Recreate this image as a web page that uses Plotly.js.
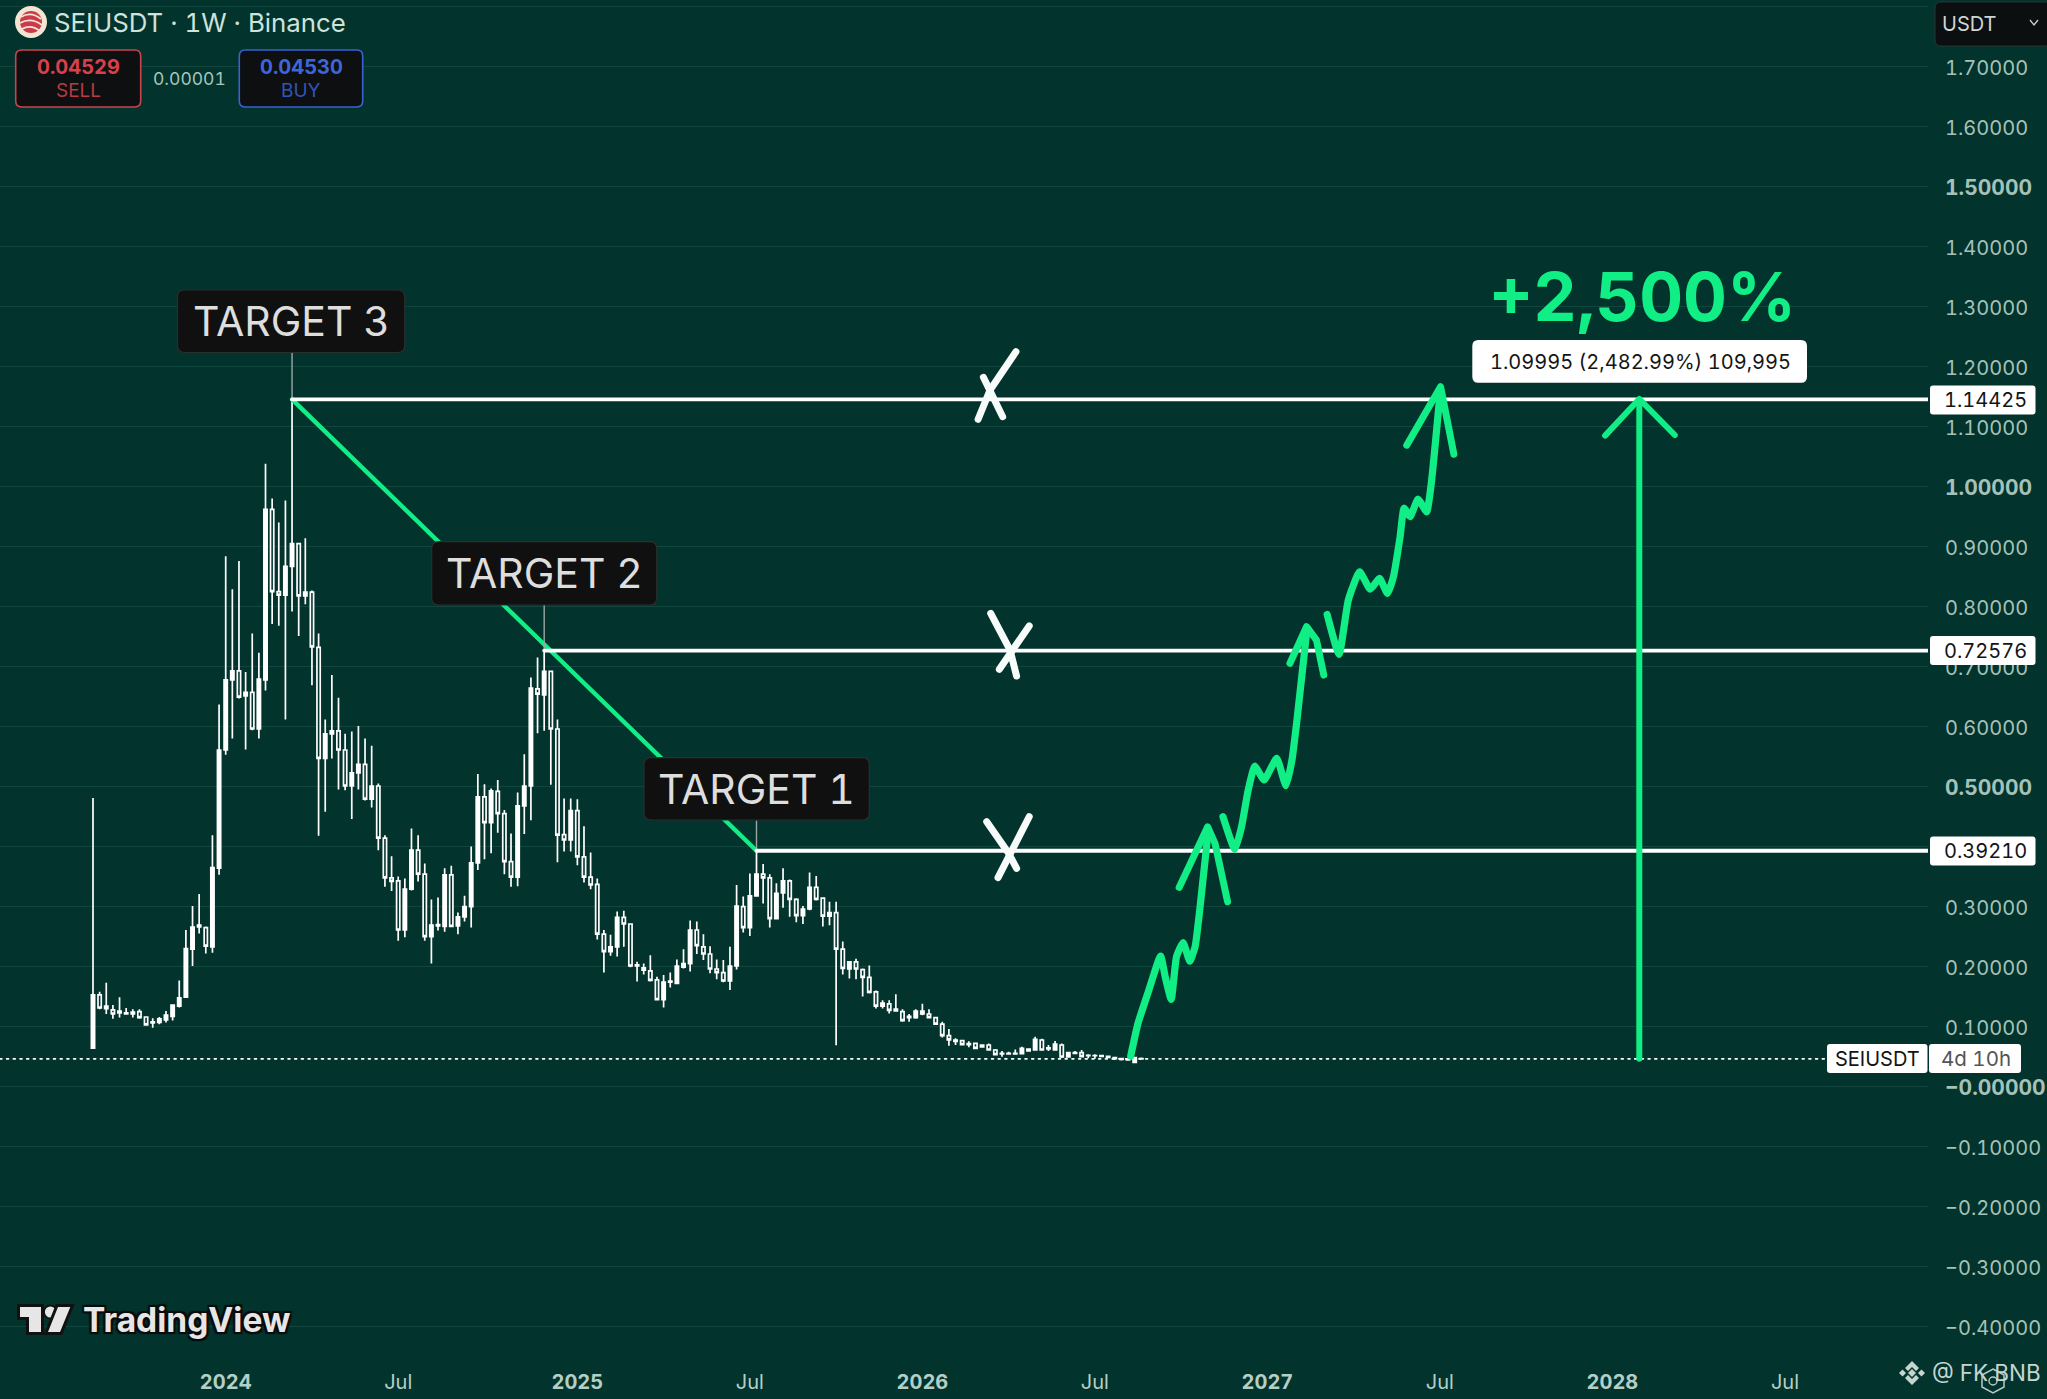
<!DOCTYPE html>
<html>
<head>
<meta charset="utf-8">
<script src="https://cdn.plot.ly/plotly-3.0.1.min.js"></script>
<style>
html,body{margin:0;padding:0;background:#02332c;overflow:hidden}
#chart{width:2047px;height:1399px}
.js-line{stroke-linecap:round;stroke-linejoin:round}
svg text{font-variant-numeric:tabular-nums;font-feature-settings:"tnum" 1}
</style>
</head>
<body>
<div id="chart"></div>
<script>
const firstWeek = '2023-08-14';
const opens = [.063,.152,.129,.127,.122,.12,.12,.124,.115,.105,.106,.11,.116,.133,.148,.228,.265,.264,.232,.363,.56,.677,.692,.65,.656,.595,.677,.961,.824,.818,.866,.904,.817,.823,.731,.546,.587,.592,.56,.5,.522,.536,.478,.5,.413,.347,.342,.26,.328,.393,.353,.249,.267,.266,.352,.267,.282,.299,.372,.482,.439,.491,.454,.374,.348,.467,.5,.662,.652,.691,.595,.419,.41,.459,.382,.348,.336,.253,.224,.232,.281,.27,.2,.193,.192,.177,.144,.173,.171,.198,.204,.26,.232,.22,.195,.189,.175,.2,.299,.264,.317,.353,.347,.279,.322,.342,.311,.284,.295,.331,.313,.283,.289,.228,.195,.207,.194,.181,.157,.133,.137,.125,.124,.114,.114,.12,.12,.114,.103,.084,.0767,.0756,.0689,.0711,.065,.0683,.06,.0533,.0533,.0535,.054,.0585,.06,.0767,.0635,.06,.0683,.0483,.0556,.0556,.0511,.0505,.0505,.0495,.0475,.0455,.0445,.0395,.0455];
const highs = [.48,.157,.172,.135,.148,.13,.128,.128,.116,.113,.115,.125,.136,.176,.26,.3,.32,.266,.418,.636,.883,.828,.875,.69,.754,.722,1.037,.979,.939,.976,1.14425,.905,.913,.826,.754,.611,.685,.647,.587,.591,.6,.579,.567,.504,.418,.383,.349,.346,.429,.418,.371,.311,.314,.363,.367,.289,.317,.399,.52,.503,.496,.51,.46,.421,.489,.553,.681,.714,.72576,.692,.611,.479,.479,.478,.433,.389,.346,.26,.252,.291,.292,.271,.207,.204,.218,.182,.185,.189,.211,.228,.276,.274,.253,.233,.211,.21,.232,.335,.316,.354,.3921,.37,.353,.338,.363,.344,.313,.3,.356,.35,.314,.307,.307,.241,.208,.212,.196,.201,.159,.143,.143,.153,.128,.12,.128,.137,.128,.115,.107,.095,.0794,.077,.0744,.0725,.069,.071,.0615,.0583,.0572,.061,.0656,.0625,.0822,.0789,.0683,.075,.071,.0565,.0583,.06,.0528,.0528,.0515,.05,.0478,.046,.045,.0475,.0475];
const lows = [.063,.128,.12,.112,.114,.119,.114,.112,.101,.097,.103,.106,.109,.131,.147,.2,.254,.221,.222,.352,.552,.579,.646,.561,.593,.579,.659,.77,.767,.611,.791,.75,.803,.668,.417,.457,.546,.494,.493,.445,.494,.476,.464,.393,.332,.325,.242,.248,.326,.341,.242,.204,.259,.257,.265,.253,.274,.264,.36,.378,.388,.422,.353,.332,.333,.42,.443,.588,.592,.502,.373,.391,.391,.368,.339,.328,.244,.189,.217,.216,.232,.198,.174,.186,.174,.143,.131,.164,.17,.196,.191,.22,.21,.188,.178,.173,.16,.194,.256,.25,.316,.304,.264,.278,.297,.282,.273,.27,.293,.309,.266,.268,.068,.186,.179,.178,.149,.154,.129,.129,.121,.124,.107,.107,.112,.118,.113,.102,.081,.067,.0683,.0685,.0644,.0625,.0645,.0595,.0515,.0489,.0528,.0528,.0535,.058,.06,.0595,.0583,.06,.0467,.0475,.0545,.0485,.0461,.0456,.0478,.047,.0435,.0425,.043,.0392,.045];
const closes = [.152,.13,.133,.12,.125,.122,.123,.114,.102,.107,.112,.118,.135,.147,.229,.265,.268,.233,.364,.56,.677,.692,.648,.656,.595,.678,.961,.824,.818,.866,.904,.817,.823,.732,.546,.587,.592,.56,.5,.522,.536,.478,.5,.413,.347,.341,.26,.328,.393,.353,.249,.268,.269,.352,.266,.282,.299,.372,.482,.439,.492,.454,.374,.348,.467,.5,.663,.653,.691,.595,.418,.41,.459,.382,.348,.335,.253,.224,.232,.281,.27,.2,.202,.197,.176,.144,.173,.175,.2,.204,.26,.234,.22,.195,.189,.175,.2,.3,.264,.317,.353,.347,.279,.321,.342,.311,.284,.295,.331,.311,.283,.289,.228,.196,.207,.195,.181,.156,.133,.138,.126,.128,.109,.116,.125,.125,.114,.103,.084,.077,.0744,.0689,.0705,.0628,.0683,.06,.0522,.0545,.0545,.0545,.0628,.0617,.0778,.06,.0617,.07,.0483,.0556,.0545,.0489,.0505,.0508,.0495,.0475,.0455,.0445,.0435,.0475,.0453];

const boldTick = s => `<span style="font-size:21px"><b>${s}</b></span>`;
const priceTicks = [1.8,1.7,1.6,1.5,1.4,1.3,1.2,1.1,1.0,.9,.8,.7,.6,.5,.4,.3,.2,.1,0,-.1,-.2,-.3,-.4];
const priceLabels = ['','1.70000','1.60000',boldTick('1.50000'),'1.40000','1.30000','1.20000','1.10000',boldTick('1.00000'),'0.90000','0.80000','0.70000','0.60000',boldTick('0.50000'),'0.40000','0.30000','0.20000','0.10000',boldTick('\u22120.00000'),'\u22120.10000','\u22120.20000','\u22120.30000','\u22120.40000'];
const timeTicks = ['2024-01-01','2024-07-01','2025-01-06','2025-07-07','2026-01-05','2026-07-06','2027-01-04','2027-07-05','2028-01-03','2028-07-03'];
const timeLabels = ['<b>2024</b>','Jul','<b>2025</b>','Jul','<b>2026</b>','Jul','<b>2027</b>','Jul','<b>2028</b>','Jul'];

const targetPrices = [1.14425,0.72576,0.39210];
const targetWeeks = [30,68,100];
const targetNames = ['TARGET 3','TARGET 2','TARGET 1'];
const stemTops = [1.2217,0.8017,0.4417];
const lastPrice = 0.0453;

const trendWeeks = [30,100];
const trendPrices = [1.14425,0.3921];
const strokeAWeeks = [156.4,157.5,159.05,160.9,161.6,162.5,163.3,164.3,165.3,166.1,166.8,168.1];
const strokeAPrices = [.05,.1045,.157,.2167,.182,.1445,.2155,.239,.208,.232,.293,.4267];
const headAWeeks = [163.7,167.1,168,169.1,171];
const headAPrices = [.331,.413,.432,.4045,.307];
const strokeBWeeks = [170.3,172.1,173.1,174.1,175.1,176.5,178.4,179.8,180.7,181.4,182.9];
const strokeBPrices = [.449,.3945,.432,.493,.533,.51,.546,.5005,.543,.6045,.7545];
const headBWeeks = [180.4,181.9,182.9,184.4,185.5];
const headBPrices = [.7045,.738,.7655,.743,.685];
const strokeCWeeks = [186,187.8,189.2,190.9,192.5,193.9,195.1,196,197,197.6,198.5,199.7,201,201.7,203];
const strokeCPrices = [.786,.7195,.81,.857,.828,.846,.821,.849,.9155,.963,.949,.978,.957,1.0045,1.152];
const headCWeeks = [198,200.5,203.1,204,205.1];
const headCPrices = [1.068,1.1155,1.1655,1.1155,1.053];
const bigArrowWeeks = [233.05,233.05,null,227.9,233.05,238.4];
const bigArrowPrices = [.0453,1.14,null,1.084,1.145,1.085];
const crossWeeks = [139.1,135.2,133.4,null,134.2,135.4,137.1,null,135.3,138.2,139.2,null,141.1,138.2,136.6,null,134.7,138,139.2,null,141.1,138.1,136.4];
const crossPrices = [1.2238,1.16,1.1112,null,1.1812,1.1517,1.1155,null,.7878,.7267,.6833,null,.7667,.7212,.6945,null,.4405,.3878,.3628,null,.4488,.3878,.3472];

const BG='#02332c', GREEN='#10ee85', WEEK=7*864e5, t0=Date.parse(firstWeek+'T00:00:00Z');
const wk = w => w===null ? null : new Date(t0+w*WEEK).toISOString();
const PW=1928, PH=1355, pxPerWeek=6.635, x0=93;
const X = x=>x/PW, Y = y=>1-y/PH;
const yTop=1086/600, yBot=(1086-PH)/600;
const rr=(a,b,c,d,r)=>`M ${X(a+r)} ${Y(b)} L ${X(c-r)} ${Y(b)} Q ${X(c)} ${Y(b)} ${X(c)} ${Y(b+r)} L ${X(c)} ${Y(d-r)} Q ${X(c)} ${Y(d)} ${X(c-r)} ${Y(d)} L ${X(a+r)} ${Y(d)} Q ${X(a)} ${Y(d)} ${X(a)} ${Y(d-r)} L ${X(a)} ${Y(b+r)} Q ${X(a)} ${Y(b)} ${X(a+r)} ${Y(b)} Z`;
const poly=(pts,close=true)=>pts.map((p,i)=>`${i?'L':'M'} ${X(p[0])} ${Y(p[1])}`).join(' ')+(close?' Z':'');
const box=(a,b,c,d,r,fill,line,w=1)=>({type:'path',xref:'paper',yref:'paper',layer:'above',path:rr(a,b,c,d,r),fillcolor:fill,line:{color:line,width:w}});
const shp=(pts,fill,line,w=0,close=true)=>({type:'path',xref:'paper',yref:'paper',layer:'above',path:poly(pts,close),fillcolor:fill,line:{color:line,width:w}});
const circ=(cx,cy,r,fill,line,w=0)=>({type:'circle',xref:'paper',yref:'paper',layer:'above',x0:X(cx-r),x1:X(cx+r),y0:Y(cy+r),y1:Y(cy-r),fillcolor:fill,line:{color:line,width:w}});
const txt=(x,y,text,size,color,anchor='left')=>({xref:'paper',yref:'paper',x:X(x),y:Y(y),text,showarrow:false,xanchor:anchor,yanchor:'middle',font:{family:'Inter, Roboto, sans-serif',size,color},borderpad:0,borderwidth:0});
const line=(x,y,color,width,extra={})=>Object.assign({type:'scatter',mode:'lines',x:x.map(wk),y,line:{color,width},hoverinfo:'skip',showlegend:false},extra);
const curve=(x,y,width)=>line(x,y,GREEN,width,{line:{color:GREEN,width,shape:'spline',smoothing:0.45}});

const rightWeek=(PW-x0)/pxPerWeek, leftWeek=-x0/pxPerWeek, dotEnd=(1827-x0)/pxPerWeek;

const data=[
  line([leftWeek,dotEnd],[lastPrice,lastPrice],'#ffffff',1.8,{line:{color:'#ffffff',width:1.8,dash:'1.8px,4.9px'}}),
  {type:'candlestick',x:opens.map((_,i)=>wk(i)),open:opens,high:highs,low:lows,close:closes,hoverinfo:'skip',showlegend:false,
   increasing:{line:{color:'#ffffff',width:1.7},fillcolor:'#ffffff'},decreasing:{line:{color:'#ffffff',width:1.7},fillcolor:BG}},
  line(trendWeeks,trendPrices,GREEN,4.4),
  ...targetWeeks.map((w,i)=>line([w,w],[stemTops[i],targetPrices[i]],'#9aa8a4',1.4)),
  ...targetWeeks.map((w,i)=>line([w,rightWeek],[targetPrices[i],targetPrices[i]],'#ffffff',3.8)),
  line(crossWeeks,crossPrices,'#f7fbf9',7),
  curve(strokeAWeeks,strokeAPrices,7.2),
  line(headAWeeks,headAPrices,GREEN,7),
  curve(strokeBWeeks,strokeBPrices,7.2),
  line(headBWeeks,headBPrices,GREEN,7),
  curve(strokeCWeeks,strokeCPrices,7.2),
  line(headCWeeks,headCPrices,GREEN,7),
  line(bigArrowWeeks,bigArrowPrices,GREEN,6)
];

const labelBoxes=[[177.5,290,404.7,352.5],[431.7,541.7,656.7,605],[644,757.7,869.3,820]];
const tags=[[1930,385.5,2035.5,414.5],[1930,636,2035.5,665],[1930,836.5,2035.5,865.5]];
const DARK='#101010';
const shapes=[
  ...labelBoxes.map(b=>box(b[0],b[1],b[2],b[3],7,DARK,'#2b2f2e',1.2)),
  ...tags.map(b=>box(b[0],b[1],b[2],b[3],3,'#ffffff','#ffffff',0)),
  box(1472.3,340,1807,382.7,6,'#ffffff','#ffffff',0),
  box(1827,1044,1927.5,1073,3,'#ffffff','#ffffff',0),
  box(1929,1044,2021,1073,3,'#ffffff','#ffffff',0),
  box(1935,2,2052,46,6,'#0b0f0f','#2d3534',1),
  shp([[2030,20],[2034,25],[2038,20]],'rgba(0,0,0,0)','#c8d0ce',1.4,false),
  box(15.7,50,140.7,107,6,'#0e0f10','#c9444f',1.6),
  box(239.3,50,362.7,107,6,'#0e0f10','#3a62d4',1.6),
  circ(31,22,16,'#f4e4d2','#f4e4d2'),
  circ(31,22,11,'#c93a4c','#c93a4c'),
  {type:'path',xref:'paper',yref:'paper',layer:'above',path:`M ${X(21)} ${Y(17)} Q ${X(31)} ${Y(11)} ${X(41)} ${Y(19)}`,line:{color:'#f4e4d2',width:1.8}},
  {type:'path',xref:'paper',yref:'paper',layer:'above',path:`M ${X(20)} ${Y(23)} Q ${X(31)} ${Y(17)} ${X(42)} ${Y(25)}`,line:{color:'#f4e4d2',width:1.8}},
  {type:'path',xref:'paper',yref:'paper',layer:'above',path:`M ${X(22)} ${Y(29)} Q ${X(31)} ${Y(24)} ${X(40)} ${Y(31)}`,line:{color:'#f4e4d2',width:1.8}},
  // TradingView mark
  shp([[18.5,1305.5],[42.5,1305.5],[42.5,1333.5],[27.5,1333.5],[27.5,1318.5],[18.5,1318.5]],'#e6e6e6','#111111',3),
  circ(50.4,1312,6.5,'#e6e6e6','#111111',2),
  shp([[57,1305.5],[72.5,1305.5],[61,1333.5],[45.8,1333.5]],'#e6e6e6','#111111',3),
  // Binance mark
  shp([[1912,1361],[1919,1368],[1916,1371],[1912,1367],[1908,1371],[1905,1368]],'#c5d6d0','#c5d6d0'),
  shp([[1912,1385],[1919,1378],[1916,1375],[1912,1379],[1908,1375],[1905,1378]],'#c5d6d0','#c5d6d0'),
  shp([[1912,1369],[1916,1373],[1912,1377],[1908,1373]],'#c5d6d0','#c5d6d0'),
  shp([[1899,1373],[1902.5,1369.5],[1906,1373],[1902.5,1376.5]],'#c5d6d0','#c5d6d0'),
  shp([[1918,1373],[1921.5,1369.5],[1925,1373],[1921.5,1376.5]],'#c5d6d0','#c5d6d0'),
  // Square hexagon mark
  shp([[1993,1369],[2004,1375],[2004,1387],[1993,1393],[1982,1387],[1982,1375]],'rgba(0,0,0,0)','#b8cbc5',1.5),
  circ(1993,1381,4,'rgba(0,0,0,0)','#b8cbc5',1.4)
];

const tagValues=['1.14425','0.72576','0.39210'];
const tvShadow='2px 2px 1px #0a0a0a, -2px -2px 1px #0a0a0a, 2px -2px 1px #0a0a0a, -2px 2px 1px #0a0a0a';
const annotations=[
  ...labelBoxes.map((b,i)=>txt((b[0]+b[2])/2,(b[1]+b[3])/2,targetNames[i],41,'#dedede','center')),
  ...tags.map((b,i)=>txt(1944,(b[1]+b[3])/2,tagValues[i],20,'#141414','left')),
  txt(1642.5,296,'<b>+2,500%</b>',68,GREEN,'center'),
  txt(1640,362,'1.09995 (2,482.99%) 109,995',20,'#151515','center'),
  txt(1877,1058.5,'SEIUSDT',20,'#141414','center'),
  txt(1976.5,1058.5,'4d 10h',20.5,'#555555','center'),
  txt(1942,24,'USDT',20,'#cfd5d3','left'),
  txt(54,23,'SEIUSDT · 1W · Binance',25.8,'#cfe2dc','left'),
  txt(78,67.5,'<b>0.04529</b>',20,'#d8404c','center'),
  txt(78,91,'SELL',19,'#b83a45','center'),
  txt(189,79,'0.00001',17.5,'#a9c6bd','center'),
  txt(301,67.5,'<b>0.04530</b>',20,'#3d66de','center'),
  txt(301,91,'BUY',19,'#3155b8','center'),
  txt(1932,1372,'@ FK BNB',22.5,'#c5d6d0','left'),
  Object.assign(txt(83,1320,'<b>TradingView</b>',33.5,'#e6e6e6','left'),{font:{family:'Inter, sans-serif',size:33.5,color:'#e6e6e6',shadow:tvShadow}})
];

const layout={
  width:2047,height:1399,margin:{l:0,r:119,t:0,b:44,pad:0},
  paper_bgcolor:BG,plot_bgcolor:BG,showlegend:false,
  font:{family:'Inter, Roboto, sans-serif',color:'#a5c2b9'},
  xaxis:{type:'date',range:[wk(leftWeek),wk(rightWeek)],rangeslider:{visible:false},showgrid:false,zeroline:false,showline:false,ticks:'',
    tickmode:'array',tickvals:timeTicks,ticktext:timeLabels,tickfont:{size:20,color:'#b4cfc6',family:'Inter, Roboto, sans-serif'},ticklabelstandoff:13},
  yaxis:{side:'right',range:[yBot,yTop],showgrid:true,gridcolor:'#10463d',gridwidth:1,zeroline:false,showline:false,ticks:'',
    tickmode:'array',tickvals:priceTicks,ticktext:priceLabels,tickfont:{size:20,color:'#a5c2b9',family:'Inter, Roboto, sans-serif'},ticklabelstandoff:16},
  shapes,annotations
};
Plotly.newPlot('chart',data,layout,{displayModeBar:false,staticPlot:true}).then(()=>{
  document.querySelectorAll('.ytick text').forEach(t=>{t.setAttribute('dy','2');t.querySelectorAll('tspan').forEach(s=>s.setAttribute('dy','2'));});
});
</script>
</body>
</html>
